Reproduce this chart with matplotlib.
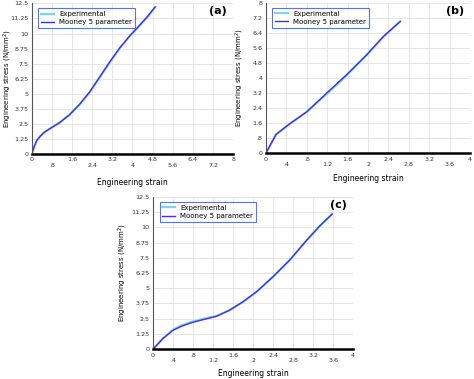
import matplotlib
matplotlib.use('Agg')
import matplotlib.pyplot as plt

plt.rcParams['font.family'] = ['DejaVu Sans']

# panel (a)
strain_a = [0, 0.1, 0.2, 0.35, 0.5, 0.8, 1.1, 1.5, 1.9, 2.3, 2.7, 3.1, 3.5, 3.9, 4.3, 4.6, 4.9]
exp_a    = [0, 0.6, 1.1, 1.5, 1.8, 2.2, 2.6, 3.25, 4.1, 5.1, 6.35, 7.6, 8.8, 9.8, 10.7, 11.4, 12.2]
moon_a   = [0, 0.62, 1.12, 1.5, 1.8, 2.2, 2.58, 3.25, 4.12, 5.15, 6.4, 7.65, 8.82, 9.82, 10.72, 11.42, 12.2]

# panel (b)
strain_b = [0, 0.1, 0.2, 0.47, 0.8, 1.19, 1.58, 1.97, 2.3, 2.63]
exp_b    = [0, 0.5, 1.0, 1.57, 2.2, 3.15, 4.14, 5.22, 6.2, 7.02]
moon_b   = [0, 0.5, 1.0, 1.57, 2.2, 3.2, 4.18, 5.23, 6.22, 7.02]

# panel (c)
strain_c = [0, 0.2, 0.4, 0.57, 0.77, 1.0, 1.27, 1.53, 1.8, 2.07, 2.4, 2.73, 3.07, 3.33, 3.58]
exp_c    = [0, 0.88, 1.6, 1.95, 2.25, 2.48, 2.72, 3.2, 3.88, 4.7, 5.94, 7.3, 8.94, 10.1, 11.1]
moon_c   = [0, 0.88, 1.55, 1.88, 2.17, 2.42, 2.7, 3.2, 3.9, 4.72, 5.96, 7.32, 8.94, 10.12, 11.1]

xt_a = [0, 0.8, 1.6, 2.4, 3.2, 4, 4.8, 5.6, 6.4, 7.2, 8]
xl_a = ['0', '.8', '1.6', '2.4', '3.2', '4', '4.8', '5.6', '6.4', '7.2', '8']
xt_bc = [0, 0.4, 0.8, 1.2, 1.6, 2, 2.4, 2.8, 3.2, 3.6, 4]
xl_bc = ['0', '.4', '.8', '1.2', '1.6', '2', '2.4', '2.8', '3.2', '3.6', '4']
yt_ac = [0, 1.25, 2.5, 3.75, 5, 6.25, 7.5, 8.75, 10, 11.25, 12.5]
yl_ac = ['0', '1.25', '2.5', '3.75', '5', '6.25', '7.5', '8.75', '10', '11.25', '12.5']
yt_b = [0, 0.8, 1.6, 2.4, 3.2, 4, 4.8, 5.6, 6.4, 7.2, 8]
yl_b = ['0', '.8', '1.6', '2.4', '3.2', '4', '4.8', '5.6', '6.4', '7.2', '8']

exp_col = '#7fd6ea'
moon_col = '#4a2bd6'

fig = plt.figure(figsize=(4.74, 3.79), dpi=100)


def panel(rect, x, ye, ym, xt, xl, yt, yl, tag, ylx, xly):
    ax = fig.add_axes(rect)
    ax.plot(x, ye, color=exp_col, lw=1.6, label='Experimental')
    ax.plot(x, ym, color=moon_col, lw=1.0, label='Mooney 5 parameter')
    ax.set_xlim(xt[0], xt[-1])
    ax.set_ylim(yt[0], yt[-1])
    ax.set_xticks(xt)
    ax.set_xticklabels([l if i % 2 == 0 else '\n' + l for i, l in enumerate(xl)])
    ax.set_yticks(yt)
    ax.set_yticklabels(yl)
    ax.tick_params(length=0, labelsize=4.6, pad=2.5, colors='#333333')
    for s in ['top', 'right']:
        ax.spines[s].set_visible(False)
    ax.spines['bottom'].set_linewidth(1.8)
    ax.spines['left'].set_linewidth(0.8)
    ax.spines['left'].set_color('#555555')
    ax.grid(True, color='#e2e2e2', lw=0.6)
    ax.set_axisbelow(True)
    ax.set_xlabel('Engineering strain', fontsize=5.5)
    ax.set_ylabel('Engineering stress (N/mm$^2$)', fontsize=5.0)
    ax.yaxis.set_label_coords(ylx, 0.5)
    ax.xaxis.set_label_coords(0.5, xly)
    leg = ax.legend(loc='upper left', fontsize=5, frameon=True, fancybox=False,
                    borderpad=0.4, handlelength=1.8, labelspacing=0.3,
                    bbox_to_anchor=(0.015, 0.99))
    leg.get_frame().set_edgecolor('#3a55b5')
    leg.get_frame().set_linewidth(0.8)
    ax.text(0.97, 0.95, tag, transform=ax.transAxes, ha='right', va='center',
            fontsize=8, fontweight='bold')
    return ax


panel([0.067, 0.594, 0.425, 0.397], strain_a, exp_a, moon_a, xt_a, xl_a, yt_ac, yl_ac, '(a)', -0.09, -0.159)
panel([0.561, 0.596, 0.431, 0.396], strain_b, exp_b, moon_b, xt_bc, xl_bc, yt_b, yl_b, '(b)', -0.098, -0.14)
panel([0.323, 0.079, 0.422, 0.401], strain_c, exp_c, moon_c, xt_bc, xl_bc, yt_ac, yl_ac, '(c)', -0.12, -0.132)

fig.savefig('out.png', dpi=100)
